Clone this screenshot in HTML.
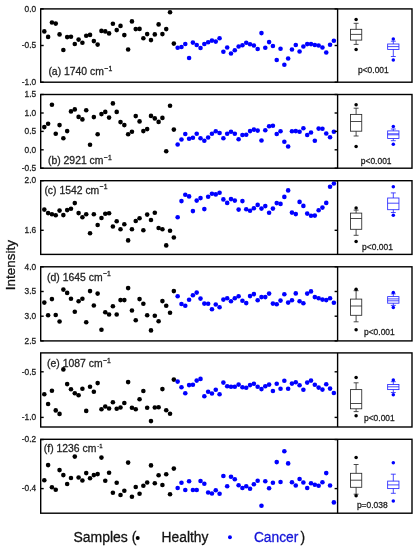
<!DOCTYPE html><html><head><meta charset="utf-8"><style>html,body{margin:0;padding:0;background:#fff;}svg{display:block;}text{font-family:"Liberation Sans",Arial,sans-serif;stroke:currentColor;stroke-width:0.28px;paint-order:stroke;}</style></head><body>
<svg width="418" height="550" viewBox="0 0 418 550">
<rect width="418" height="550" fill="#fff"/>
<circle cx="44.31" cy="31.4" r="2.3" fill="#000"/><circle cx="48.12" cy="36.9" r="2.3" fill="#000"/><circle cx="51.93" cy="22.5" r="2.3" fill="#000"/><circle cx="55.74" cy="23.6" r="2.3" fill="#000"/><circle cx="59.55" cy="34.4" r="2.3" fill="#000"/><circle cx="63.36" cy="50" r="2.3" fill="#000"/><circle cx="67.17" cy="37.1" r="2.3" fill="#000"/><circle cx="70.98" cy="36.8" r="2.3" fill="#000"/><circle cx="74.79" cy="44" r="2.3" fill="#000"/><circle cx="78.6" cy="39.6" r="2.3" fill="#000"/><circle cx="82.41" cy="42.8" r="2.3" fill="#000"/><circle cx="86.22" cy="35.8" r="2.3" fill="#000"/><circle cx="90.03" cy="34.9" r="2.3" fill="#000"/><circle cx="93.84" cy="41.1" r="2.3" fill="#000"/><circle cx="97.65" cy="44.6" r="2.3" fill="#000"/><circle cx="101.46" cy="30.9" r="2.3" fill="#000"/><circle cx="105.27" cy="31.4" r="2.3" fill="#000"/><circle cx="109.08" cy="33.4" r="2.3" fill="#000"/><circle cx="112.89" cy="23.7" r="2.3" fill="#000"/><circle cx="116.7" cy="30.1" r="2.3" fill="#000"/><circle cx="120.51" cy="25.9" r="2.3" fill="#000"/><circle cx="124.32" cy="35.1" r="2.3" fill="#000"/><circle cx="128.13" cy="49.5" r="2.3" fill="#000"/><circle cx="131.94" cy="21.4" r="2.3" fill="#000"/><circle cx="135.75" cy="29.1" r="2.3" fill="#000"/><circle cx="139.56" cy="28.9" r="2.3" fill="#000"/><circle cx="143.37" cy="38.2" r="2.3" fill="#000"/><circle cx="147.18" cy="34.1" r="2.3" fill="#000"/><circle cx="150.99" cy="40.1" r="2.3" fill="#000"/><circle cx="154.8" cy="34.4" r="2.3" fill="#000"/><circle cx="158.61" cy="24.4" r="2.3" fill="#000"/><circle cx="162.42" cy="34.1" r="2.3" fill="#000"/><circle cx="166.23" cy="29.1" r="2.3" fill="#000"/><circle cx="170.04" cy="12.2" r="2.3" fill="#000"/><circle cx="173.85" cy="43.6" r="2.3" fill="#000"/><circle cx="177.66" cy="47.8" r="2.3" fill="#0000ff"/><circle cx="181.47" cy="47" r="2.3" fill="#0000ff"/><circle cx="185.28" cy="44" r="2.3" fill="#0000ff"/><circle cx="189.09" cy="58" r="2.3" fill="#0000ff"/><circle cx="192.9" cy="42.6" r="2.3" fill="#0000ff"/><circle cx="196.71" cy="45" r="2.3" fill="#0000ff"/><circle cx="200.52" cy="48" r="2.3" fill="#0000ff"/><circle cx="204.33" cy="44" r="2.3" fill="#0000ff"/><circle cx="208.14" cy="42.3" r="2.3" fill="#0000ff"/><circle cx="211.95" cy="40.6" r="2.3" fill="#0000ff"/><circle cx="215.76" cy="41.6" r="2.3" fill="#0000ff"/><circle cx="219.57" cy="38.3" r="2.3" fill="#0000ff"/><circle cx="223.38" cy="51.8" r="2.3" fill="#0000ff"/><circle cx="227.19" cy="47.5" r="2.3" fill="#0000ff"/><circle cx="231" cy="53.5" r="2.3" fill="#0000ff"/><circle cx="234.81" cy="50.3" r="2.3" fill="#0000ff"/><circle cx="238.62" cy="46.5" r="2.3" fill="#0000ff"/><circle cx="242.43" cy="45.2" r="2.3" fill="#0000ff"/><circle cx="246.24" cy="42.8" r="2.3" fill="#0000ff"/><circle cx="250.05" cy="44.3" r="2.3" fill="#0000ff"/><circle cx="253.86" cy="45.5" r="2.3" fill="#0000ff"/><circle cx="257.67" cy="49" r="2.3" fill="#0000ff"/><circle cx="261.48" cy="33.1" r="2.3" fill="#0000ff"/><circle cx="265.29" cy="47.8" r="2.3" fill="#0000ff"/><circle cx="269.1" cy="42.1" r="2.3" fill="#0000ff"/><circle cx="272.91" cy="46" r="2.3" fill="#0000ff"/><circle cx="276.72" cy="60" r="2.3" fill="#0000ff"/><circle cx="280.53" cy="48.8" r="2.3" fill="#0000ff"/><circle cx="284.34" cy="64.7" r="2.3" fill="#0000ff"/><circle cx="288.15" cy="58.5" r="2.3" fill="#0000ff"/><circle cx="291.96" cy="49.5" r="2.3" fill="#0000ff"/><circle cx="295.77" cy="45" r="2.3" fill="#0000ff"/><circle cx="299.58" cy="51.5" r="2.3" fill="#0000ff"/><circle cx="303.39" cy="46.5" r="2.3" fill="#0000ff"/><circle cx="307.2" cy="44.1" r="2.3" fill="#0000ff"/><circle cx="311.01" cy="44.1" r="2.3" fill="#0000ff"/><circle cx="314.82" cy="45" r="2.3" fill="#0000ff"/><circle cx="318.63" cy="45.5" r="2.3" fill="#0000ff"/><circle cx="322.44" cy="47.5" r="2.3" fill="#0000ff"/><circle cx="326.25" cy="52.5" r="2.3" fill="#0000ff"/><circle cx="330.06" cy="44.8" r="2.3" fill="#0000ff"/><circle cx="333.87" cy="40.8" r="2.3" fill="#0000ff"/><g stroke="#000" stroke-width="1.4" fill="none"><rect x="40.7" y="8.9" width="371.3" height="73.3"/><line x1="337.6" y1="8.9" x2="337.6" y2="82.2"/><line x1="40.7" y1="8.9" x2="43.7" y2="8.9"/><line x1="334.6" y1="8.9" x2="337.6" y2="8.9"/><line x1="40.7" y1="45.5" x2="43.7" y2="45.5"/><line x1="334.6" y1="45.5" x2="337.6" y2="45.5"/><line x1="40.7" y1="82.2" x2="43.7" y2="82.2"/><line x1="334.6" y1="82.2" x2="337.6" y2="82.2"/></g><text x="36.1" y="11.6" font-size="8.3" text-anchor="end" fill="#222" color="#222">0.0</text><text x="36.1" y="48.2" font-size="8.3" text-anchor="end" fill="#222" color="#222">-0.5</text><text x="36.1" y="84.9" font-size="8.3" text-anchor="end" fill="#222" color="#222">-1.0</text><text x="48.4" y="75.3" font-size="10.4" fill="#222" color="#222">(a) 1740 cm<tspan font-size="6.8" dx="0.6" dy="-4.6">−1</tspan></text><g stroke="#2a2a2a" stroke-width="0.85" fill="none"><rect x="350.45" y="29.3" width="11.3" height="10.8"/><line x1="350.45" y1="34.4" x2="361.75" y2="34.4"/><line x1="356.1" y1="23.3" x2="356.1" y2="29.3"/><line x1="356.1" y1="40.1" x2="356.1" y2="44.4"/><line x1="353.65" y1="23.3" x2="358.55" y2="23.3"/><line x1="353.65" y1="44.4" x2="358.55" y2="44.4"/></g><circle cx="356.1" cy="19.6" r="1.75" fill="#000"/><circle cx="356.1" cy="49.6" r="1.75" fill="#000"/><g stroke="#2828ff" stroke-width="0.85" fill="none"><rect x="387.65" y="44" width="11.3" height="5.4"/><line x1="387.65" y1="46.6" x2="398.95" y2="46.6"/><line x1="393.3" y1="41.2" x2="393.3" y2="44"/><line x1="393.3" y1="49.4" x2="393.3" y2="56.5"/><line x1="390.85" y1="41.2" x2="395.75" y2="41.2"/><line x1="390.85" y1="56.5" x2="395.75" y2="56.5"/></g><circle cx="393.3" cy="39" r="1.75" fill="#0000ff"/><circle cx="393.3" cy="59.9" r="1.75" fill="#0000ff"/><text x="358.0" y="73.1" font-size="8.45" fill="#222" color="#222">p&lt;0.001</text>
<circle cx="44.31" cy="127.1" r="2.3" fill="#000"/><circle cx="48.12" cy="123.8" r="2.3" fill="#000"/><circle cx="51.93" cy="104.7" r="2.3" fill="#000"/><circle cx="55.74" cy="133.8" r="2.3" fill="#000"/><circle cx="59.55" cy="125.1" r="2.3" fill="#000"/><circle cx="63.36" cy="138.3" r="2.3" fill="#000"/><circle cx="67.17" cy="131.1" r="2.3" fill="#000"/><circle cx="70.98" cy="111.4" r="2.3" fill="#000"/><circle cx="74.79" cy="109.4" r="2.3" fill="#000"/><circle cx="78.6" cy="116.9" r="2.3" fill="#000"/><circle cx="82.41" cy="119.4" r="2.3" fill="#000"/><circle cx="86.22" cy="110.2" r="2.3" fill="#000"/><circle cx="90.03" cy="144.7" r="2.3" fill="#000"/><circle cx="93.84" cy="117.1" r="2.3" fill="#000"/><circle cx="97.65" cy="134.3" r="2.3" fill="#000"/><circle cx="101.46" cy="114.1" r="2.3" fill="#000"/><circle cx="105.27" cy="111.9" r="2.3" fill="#000"/><circle cx="109.08" cy="117.6" r="2.3" fill="#000"/><circle cx="112.89" cy="103.4" r="2.3" fill="#000"/><circle cx="116.7" cy="111.9" r="2.3" fill="#000"/><circle cx="120.51" cy="122.1" r="2.3" fill="#000"/><circle cx="124.32" cy="125.1" r="2.3" fill="#000"/><circle cx="128.13" cy="134.3" r="2.3" fill="#000"/><circle cx="131.94" cy="131.8" r="2.3" fill="#000"/><circle cx="135.75" cy="116.1" r="2.3" fill="#000"/><circle cx="139.56" cy="121.4" r="2.3" fill="#000"/><circle cx="143.37" cy="131.1" r="2.3" fill="#000"/><circle cx="147.18" cy="129.1" r="2.3" fill="#000"/><circle cx="150.99" cy="115.9" r="2.3" fill="#000"/><circle cx="154.8" cy="118.4" r="2.3" fill="#000"/><circle cx="158.61" cy="121.9" r="2.3" fill="#000"/><circle cx="162.42" cy="117.9" r="2.3" fill="#000"/><circle cx="166.23" cy="151.2" r="2.3" fill="#000"/><circle cx="170.04" cy="105.7" r="2.3" fill="#000"/><circle cx="173.85" cy="129.6" r="2.3" fill="#000"/><circle cx="177.66" cy="144.5" r="2.3" fill="#0000ff"/><circle cx="181.47" cy="139.5" r="2.3" fill="#0000ff"/><circle cx="185.28" cy="134" r="2.3" fill="#0000ff"/><circle cx="189.09" cy="138.8" r="2.3" fill="#0000ff"/><circle cx="192.9" cy="137.8" r="2.3" fill="#0000ff"/><circle cx="196.71" cy="133.8" r="2.3" fill="#0000ff"/><circle cx="200.52" cy="138.3" r="2.3" fill="#0000ff"/><circle cx="204.33" cy="140.8" r="2.3" fill="#0000ff"/><circle cx="208.14" cy="137.5" r="2.3" fill="#0000ff"/><circle cx="211.95" cy="133.8" r="2.3" fill="#0000ff"/><circle cx="215.76" cy="131.3" r="2.3" fill="#0000ff"/><circle cx="219.57" cy="133" r="2.3" fill="#0000ff"/><circle cx="223.38" cy="138.3" r="2.3" fill="#0000ff"/><circle cx="227.19" cy="133.8" r="2.3" fill="#0000ff"/><circle cx="231" cy="131.8" r="2.3" fill="#0000ff"/><circle cx="234.81" cy="133.8" r="2.3" fill="#0000ff"/><circle cx="238.62" cy="139.3" r="2.3" fill="#0000ff"/><circle cx="242.43" cy="135" r="2.3" fill="#0000ff"/><circle cx="246.24" cy="134.8" r="2.3" fill="#0000ff"/><circle cx="250.05" cy="131.1" r="2.3" fill="#0000ff"/><circle cx="253.86" cy="129.6" r="2.3" fill="#0000ff"/><circle cx="257.67" cy="130.6" r="2.3" fill="#0000ff"/><circle cx="261.48" cy="140.5" r="2.3" fill="#0000ff"/><circle cx="265.29" cy="130.3" r="2.3" fill="#0000ff"/><circle cx="269.1" cy="126.3" r="2.3" fill="#0000ff"/><circle cx="272.91" cy="125.8" r="2.3" fill="#0000ff"/><circle cx="276.72" cy="134" r="2.3" fill="#0000ff"/><circle cx="280.53" cy="131.3" r="2.3" fill="#0000ff"/><circle cx="284.34" cy="141.8" r="2.3" fill="#0000ff"/><circle cx="288.15" cy="146.5" r="2.3" fill="#0000ff"/><circle cx="291.96" cy="131.3" r="2.3" fill="#0000ff"/><circle cx="295.77" cy="131.1" r="2.3" fill="#0000ff"/><circle cx="299.58" cy="131.8" r="2.3" fill="#0000ff"/><circle cx="303.39" cy="128.3" r="2.3" fill="#0000ff"/><circle cx="307.2" cy="135" r="2.3" fill="#0000ff"/><circle cx="311.01" cy="132.5" r="2.3" fill="#0000ff"/><circle cx="314.82" cy="140.8" r="2.3" fill="#0000ff"/><circle cx="318.63" cy="128.6" r="2.3" fill="#0000ff"/><circle cx="322.44" cy="128.8" r="2.3" fill="#0000ff"/><circle cx="326.25" cy="133.5" r="2.3" fill="#0000ff"/><circle cx="330.06" cy="137.3" r="2.3" fill="#0000ff"/><circle cx="333.87" cy="131.8" r="2.3" fill="#0000ff"/><g stroke="#000" stroke-width="1.4" fill="none"><rect x="40.7" y="94.5" width="371.3" height="73.7"/><line x1="337.6" y1="94.5" x2="337.6" y2="168.2"/><line x1="40.7" y1="94.5" x2="43.7" y2="94.5"/><line x1="334.6" y1="94.5" x2="337.6" y2="94.5"/><line x1="40.7" y1="113.0" x2="43.7" y2="113.0"/><line x1="334.6" y1="113.0" x2="337.6" y2="113.0"/><line x1="40.7" y1="131.4" x2="43.7" y2="131.4"/><line x1="334.6" y1="131.4" x2="337.6" y2="131.4"/><line x1="40.7" y1="149.8" x2="43.7" y2="149.8"/><line x1="334.6" y1="149.8" x2="337.6" y2="149.8"/><line x1="40.7" y1="168.2" x2="43.7" y2="168.2"/><line x1="334.6" y1="168.2" x2="337.6" y2="168.2"/></g><text x="36.1" y="97.2" font-size="8.3" text-anchor="end" fill="#222" color="#222">1.5</text><text x="36.1" y="115.7" font-size="8.3" text-anchor="end" fill="#222" color="#222">1.0</text><text x="36.1" y="134.1" font-size="8.3" text-anchor="end" fill="#222" color="#222">0.5</text><text x="36.1" y="152.5" font-size="8.3" text-anchor="end" fill="#222" color="#222">0.0</text><text x="36.1" y="170.9" font-size="8.3" text-anchor="end" fill="#222" color="#222">-0.5</text><text x="48.0" y="164.1" font-size="10.4" fill="#222" color="#222">(b) 2921 cm<tspan font-size="6.8" dx="0.6" dy="-4.6">−1</tspan></text><g stroke="#2a2a2a" stroke-width="0.85" fill="none"><rect x="350.45" y="114.4" width="11.3" height="16.8"/><line x1="350.45" y1="121.5" x2="361.75" y2="121.5"/><line x1="356.1" y1="108.2" x2="356.1" y2="114.4"/><line x1="356.1" y1="131.2" x2="356.1" y2="136"/><line x1="353.65" y1="108.2" x2="358.55" y2="108.2"/><line x1="353.65" y1="136" x2="358.55" y2="136"/></g><circle cx="356.1" cy="104.7" r="1.75" fill="#000"/><circle cx="356.1" cy="146.5" r="1.75" fill="#000"/><g stroke="#2828ff" stroke-width="0.85" fill="none"><rect x="387.65" y="130.9" width="11.3" height="7.6"/><line x1="387.65" y1="133.8" x2="398.95" y2="133.8"/><line x1="387.65" y1="134.8" x2="398.95" y2="134.8"/><line x1="393.3" y1="129" x2="393.3" y2="130.9"/><line x1="393.3" y1="138.5" x2="393.3" y2="140.7"/><line x1="390.85" y1="129" x2="395.75" y2="129"/><line x1="390.85" y1="140.7" x2="395.75" y2="140.7"/></g><circle cx="393.3" cy="126.4" r="1.75" fill="#0000ff"/><circle cx="393.3" cy="144.2" r="1.75" fill="#0000ff"/><text x="360.8" y="163.8" font-size="8.45" fill="#222" color="#222">p&lt;0.001</text>
<circle cx="44.31" cy="209.6" r="2.3" fill="#000"/><circle cx="48.12" cy="213.1" r="2.3" fill="#000"/><circle cx="51.93" cy="214.3" r="2.3" fill="#000"/><circle cx="55.74" cy="215.3" r="2.3" fill="#000"/><circle cx="59.55" cy="210.6" r="2.3" fill="#000"/><circle cx="63.36" cy="215.1" r="2.3" fill="#000"/><circle cx="67.17" cy="210.1" r="2.3" fill="#000"/><circle cx="70.98" cy="208.8" r="2.3" fill="#000"/><circle cx="74.79" cy="203.1" r="2.3" fill="#000"/><circle cx="78.6" cy="213.1" r="2.3" fill="#000"/><circle cx="82.41" cy="217.3" r="2.3" fill="#000"/><circle cx="86.22" cy="214.3" r="2.3" fill="#000"/><circle cx="90.03" cy="233.2" r="2.3" fill="#000"/><circle cx="93.84" cy="214.3" r="2.3" fill="#000"/><circle cx="97.65" cy="225" r="2.3" fill="#000"/><circle cx="101.46" cy="218" r="2.3" fill="#000"/><circle cx="105.27" cy="213.8" r="2.3" fill="#000"/><circle cx="109.08" cy="213.3" r="2.3" fill="#000"/><circle cx="112.89" cy="226.5" r="2.3" fill="#000"/><circle cx="116.7" cy="221.3" r="2.3" fill="#000"/><circle cx="120.51" cy="229.2" r="2.3" fill="#000"/><circle cx="124.32" cy="224.3" r="2.3" fill="#000"/><circle cx="128.13" cy="240.4" r="2.3" fill="#000"/><circle cx="131.94" cy="229.2" r="2.3" fill="#000"/><circle cx="135.75" cy="221" r="2.3" fill="#000"/><circle cx="139.56" cy="218.3" r="2.3" fill="#000"/><circle cx="143.37" cy="230.2" r="2.3" fill="#000"/><circle cx="147.18" cy="214.6" r="2.3" fill="#000"/><circle cx="150.99" cy="220" r="2.3" fill="#000"/><circle cx="154.8" cy="212.8" r="2.3" fill="#000"/><circle cx="158.61" cy="228" r="2.3" fill="#000"/><circle cx="162.42" cy="229.2" r="2.3" fill="#000"/><circle cx="166.23" cy="245.4" r="2.3" fill="#000"/><circle cx="170.04" cy="230.7" r="2.3" fill="#000"/><circle cx="173.85" cy="237.5" r="2.3" fill="#000"/><circle cx="177.66" cy="217.3" r="2.3" fill="#0000ff"/><circle cx="181.47" cy="201.1" r="2.3" fill="#0000ff"/><circle cx="185.28" cy="194.7" r="2.3" fill="#0000ff"/><circle cx="189.09" cy="196.4" r="2.3" fill="#0000ff"/><circle cx="192.9" cy="211.1" r="2.3" fill="#0000ff"/><circle cx="196.71" cy="200.6" r="2.3" fill="#0000ff"/><circle cx="200.52" cy="198.1" r="2.3" fill="#0000ff"/><circle cx="204.33" cy="209.1" r="2.3" fill="#0000ff"/><circle cx="208.14" cy="196.7" r="2.3" fill="#0000ff"/><circle cx="211.95" cy="193.7" r="2.3" fill="#0000ff"/><circle cx="215.76" cy="194.4" r="2.3" fill="#0000ff"/><circle cx="219.57" cy="192.7" r="2.3" fill="#0000ff"/><circle cx="223.38" cy="199.4" r="2.3" fill="#0000ff"/><circle cx="227.19" cy="202.9" r="2.3" fill="#0000ff"/><circle cx="231" cy="199.1" r="2.3" fill="#0000ff"/><circle cx="234.81" cy="200.6" r="2.3" fill="#0000ff"/><circle cx="238.62" cy="209.6" r="2.3" fill="#0000ff"/><circle cx="242.43" cy="201.1" r="2.3" fill="#0000ff"/><circle cx="246.24" cy="209.3" r="2.3" fill="#0000ff"/><circle cx="250.05" cy="210.8" r="2.3" fill="#0000ff"/><circle cx="253.86" cy="208.3" r="2.3" fill="#0000ff"/><circle cx="257.67" cy="204.9" r="2.3" fill="#0000ff"/><circle cx="261.48" cy="208.6" r="2.3" fill="#0000ff"/><circle cx="265.29" cy="206.1" r="2.3" fill="#0000ff"/><circle cx="269.1" cy="212.8" r="2.3" fill="#0000ff"/><circle cx="272.91" cy="208.6" r="2.3" fill="#0000ff"/><circle cx="276.72" cy="203.1" r="2.3" fill="#0000ff"/><circle cx="280.53" cy="203.9" r="2.3" fill="#0000ff"/><circle cx="284.34" cy="196.9" r="2.3" fill="#0000ff"/><circle cx="288.15" cy="190.4" r="2.3" fill="#0000ff"/><circle cx="291.96" cy="212.6" r="2.3" fill="#0000ff"/><circle cx="295.77" cy="214.1" r="2.3" fill="#0000ff"/><circle cx="299.58" cy="201.9" r="2.3" fill="#0000ff"/><circle cx="303.39" cy="205.9" r="2.3" fill="#0000ff"/><circle cx="307.2" cy="213.6" r="2.3" fill="#0000ff"/><circle cx="311.01" cy="215.8" r="2.3" fill="#0000ff"/><circle cx="314.82" cy="215.6" r="2.3" fill="#0000ff"/><circle cx="318.63" cy="210.3" r="2.3" fill="#0000ff"/><circle cx="322.44" cy="207.6" r="2.3" fill="#0000ff"/><circle cx="326.25" cy="202.9" r="2.3" fill="#0000ff"/><circle cx="330.06" cy="186.7" r="2.3" fill="#0000ff"/><circle cx="333.87" cy="183.5" r="2.3" fill="#0000ff"/><g stroke="#000" stroke-width="1.4" fill="none"><rect x="40.7" y="180.7" width="371.3" height="73.7"/><line x1="337.6" y1="180.7" x2="337.6" y2="254.4"/><line x1="40.7" y1="180.7" x2="43.7" y2="180.7"/><line x1="334.6" y1="180.7" x2="337.6" y2="180.7"/><line x1="40.7" y1="230.3" x2="43.7" y2="230.3"/><line x1="334.6" y1="230.3" x2="337.6" y2="230.3"/></g><text x="36.1" y="183.4" font-size="8.3" text-anchor="end" fill="#222" color="#222">2.0</text><text x="36.1" y="233" font-size="8.3" text-anchor="end" fill="#222" color="#222">1.6</text><text x="44.4" y="194.0" font-size="10.4" fill="#222" color="#222">(c) 1542 cm<tspan font-size="6.8" dx="0.6" dy="-4.6">−1</tspan></text><g stroke="#2a2a2a" stroke-width="0.85" fill="none"><rect x="350.45" y="213.1" width="11.3" height="16.2"/><line x1="350.45" y1="218.5" x2="361.75" y2="218.5"/><line x1="356.1" y1="210.1" x2="356.1" y2="213.1"/><line x1="356.1" y1="229.3" x2="356.1" y2="235.3"/><line x1="353.65" y1="210.1" x2="358.55" y2="210.1"/><line x1="353.65" y1="235.3" x2="358.55" y2="235.3"/></g><circle cx="356.1" cy="207.9" r="1.75" fill="#000"/><circle cx="356.1" cy="241.4" r="1.75" fill="#000"/><g stroke="#2828ff" stroke-width="0.85" fill="none"><rect x="387.65" y="198" width="11.3" height="11.7"/><line x1="387.65" y1="203.2" x2="398.95" y2="203.2"/><line x1="393.3" y1="192.9" x2="393.3" y2="198"/><line x1="393.3" y1="209.7" x2="393.3" y2="212.5"/><line x1="390.85" y1="192.9" x2="395.75" y2="192.9"/><line x1="390.85" y1="212.5" x2="395.75" y2="212.5"/></g><circle cx="393.3" cy="186.8" r="1.75" fill="#0000ff"/><circle cx="393.3" cy="215.3" r="1.75" fill="#0000ff"/><text x="362.1" y="249.5" font-size="8.45" fill="#222" color="#222">p&lt;0.001</text>
<circle cx="44.31" cy="302.6" r="2.3" fill="#000"/><circle cx="48.12" cy="315.2" r="2.3" fill="#000"/><circle cx="51.93" cy="299.1" r="2.3" fill="#000"/><circle cx="55.74" cy="315" r="2.3" fill="#000"/><circle cx="59.55" cy="321.5" r="2.3" fill="#000"/><circle cx="63.36" cy="289.6" r="2.3" fill="#000"/><circle cx="67.17" cy="292.9" r="2.3" fill="#000"/><circle cx="70.98" cy="298.8" r="2.3" fill="#000"/><circle cx="74.79" cy="311.8" r="2.3" fill="#000"/><circle cx="78.6" cy="301.3" r="2.3" fill="#000"/><circle cx="82.41" cy="298.8" r="2.3" fill="#000"/><circle cx="86.22" cy="322.2" r="2.3" fill="#000"/><circle cx="90.03" cy="291.1" r="2.3" fill="#000"/><circle cx="93.84" cy="305.5" r="2.3" fill="#000"/><circle cx="97.65" cy="293.6" r="2.3" fill="#000"/><circle cx="101.46" cy="329.7" r="2.3" fill="#000"/><circle cx="105.27" cy="312.3" r="2.3" fill="#000"/><circle cx="109.08" cy="314.5" r="2.3" fill="#000"/><circle cx="112.89" cy="306.3" r="2.3" fill="#000"/><circle cx="116.7" cy="314.5" r="2.3" fill="#000"/><circle cx="120.51" cy="300.1" r="2.3" fill="#000"/><circle cx="124.32" cy="300.1" r="2.3" fill="#000"/><circle cx="128.13" cy="288.1" r="2.3" fill="#000"/><circle cx="131.94" cy="310.5" r="2.3" fill="#000"/><circle cx="135.75" cy="320.2" r="2.3" fill="#000"/><circle cx="139.56" cy="299.1" r="2.3" fill="#000"/><circle cx="143.37" cy="303.8" r="2.3" fill="#000"/><circle cx="147.18" cy="315.2" r="2.3" fill="#000"/><circle cx="150.99" cy="330.4" r="2.3" fill="#000"/><circle cx="154.8" cy="315.7" r="2.3" fill="#000"/><circle cx="158.61" cy="321.2" r="2.3" fill="#000"/><circle cx="162.42" cy="301.1" r="2.3" fill="#000"/><circle cx="166.23" cy="305.8" r="2.3" fill="#000"/><circle cx="170.04" cy="312.8" r="2.3" fill="#000"/><circle cx="173.85" cy="291.1" r="2.3" fill="#000"/><circle cx="177.66" cy="296.3" r="2.3" fill="#0000ff"/><circle cx="181.47" cy="304" r="2.3" fill="#0000ff"/><circle cx="185.28" cy="305.8" r="2.3" fill="#0000ff"/><circle cx="189.09" cy="299.8" r="2.3" fill="#0000ff"/><circle cx="192.9" cy="295.3" r="2.3" fill="#0000ff"/><circle cx="196.71" cy="292.6" r="2.3" fill="#0000ff"/><circle cx="200.52" cy="298.6" r="2.3" fill="#0000ff"/><circle cx="204.33" cy="303.6" r="2.3" fill="#0000ff"/><circle cx="208.14" cy="303.8" r="2.3" fill="#0000ff"/><circle cx="211.95" cy="309.3" r="2.3" fill="#0000ff"/><circle cx="215.76" cy="304.5" r="2.3" fill="#0000ff"/><circle cx="219.57" cy="307.3" r="2.3" fill="#0000ff"/><circle cx="223.38" cy="299.6" r="2.3" fill="#0000ff"/><circle cx="227.19" cy="298.3" r="2.3" fill="#0000ff"/><circle cx="231" cy="301.3" r="2.3" fill="#0000ff"/><circle cx="234.81" cy="298.3" r="2.3" fill="#0000ff"/><circle cx="238.62" cy="296.3" r="2.3" fill="#0000ff"/><circle cx="242.43" cy="300.8" r="2.3" fill="#0000ff"/><circle cx="246.24" cy="303.1" r="2.3" fill="#0000ff"/><circle cx="250.05" cy="296.1" r="2.3" fill="#0000ff"/><circle cx="253.86" cy="294.1" r="2.3" fill="#0000ff"/><circle cx="257.67" cy="300.3" r="2.3" fill="#0000ff"/><circle cx="261.48" cy="297.1" r="2.3" fill="#0000ff"/><circle cx="265.29" cy="297.1" r="2.3" fill="#0000ff"/><circle cx="269.1" cy="293.6" r="2.3" fill="#0000ff"/><circle cx="272.91" cy="303.6" r="2.3" fill="#0000ff"/><circle cx="276.72" cy="304.3" r="2.3" fill="#0000ff"/><circle cx="280.53" cy="300.6" r="2.3" fill="#0000ff"/><circle cx="284.34" cy="294.3" r="2.3" fill="#0000ff"/><circle cx="288.15" cy="302.6" r="2.3" fill="#0000ff"/><circle cx="291.96" cy="300.3" r="2.3" fill="#0000ff"/><circle cx="295.77" cy="293.4" r="2.3" fill="#0000ff"/><circle cx="299.58" cy="301.3" r="2.3" fill="#0000ff"/><circle cx="303.39" cy="303.3" r="2.3" fill="#0000ff"/><circle cx="307.2" cy="293.6" r="2.3" fill="#0000ff"/><circle cx="311.01" cy="291.4" r="2.3" fill="#0000ff"/><circle cx="314.82" cy="297.1" r="2.3" fill="#0000ff"/><circle cx="318.63" cy="298.3" r="2.3" fill="#0000ff"/><circle cx="322.44" cy="299.6" r="2.3" fill="#0000ff"/><circle cx="326.25" cy="300.1" r="2.3" fill="#0000ff"/><circle cx="330.06" cy="298.3" r="2.3" fill="#0000ff"/><circle cx="333.87" cy="302.8" r="2.3" fill="#0000ff"/><g stroke="#000" stroke-width="1.4" fill="none"><rect x="40.7" y="266.8" width="371.3" height="74.1"/><line x1="337.6" y1="266.8" x2="337.6" y2="340.9"/><line x1="40.7" y1="266.8" x2="43.7" y2="266.8"/><line x1="334.6" y1="266.8" x2="337.6" y2="266.8"/><line x1="40.7" y1="291.5" x2="43.7" y2="291.5"/><line x1="334.6" y1="291.5" x2="337.6" y2="291.5"/><line x1="40.7" y1="316.2" x2="43.7" y2="316.2"/><line x1="334.6" y1="316.2" x2="337.6" y2="316.2"/><line x1="40.7" y1="340.9" x2="43.7" y2="340.9"/><line x1="334.6" y1="340.9" x2="337.6" y2="340.9"/></g><text x="36.1" y="269.5" font-size="8.3" text-anchor="end" fill="#222" color="#222">4.0</text><text x="36.1" y="294.2" font-size="8.3" text-anchor="end" fill="#222" color="#222">3.5</text><text x="36.1" y="318.9" font-size="8.3" text-anchor="end" fill="#222" color="#222">3.0</text><text x="36.1" y="343.6" font-size="8.3" text-anchor="end" fill="#222" color="#222">2.5</text><text x="47.1" y="280.7" font-size="10.4" fill="#222" color="#222">(d) 1645 cm<tspan font-size="6.8" dx="0.6" dy="-4.6">−1</tspan></text><g stroke="#2a2a2a" stroke-width="0.85" fill="none"><rect x="350.45" y="299.1" width="11.3" height="16.2"/><line x1="350.45" y1="306" x2="361.75" y2="306"/><line x1="356.1" y1="290.7" x2="356.1" y2="299.1"/><line x1="356.1" y1="315.3" x2="356.1" y2="321.8"/><line x1="353.65" y1="290.7" x2="358.55" y2="290.7"/><line x1="353.65" y1="321.8" x2="358.55" y2="321.8"/></g><circle cx="356.1" cy="289.2" r="1.75" fill="#000"/><circle cx="356.1" cy="329.7" r="1.75" fill="#000"/><g stroke="#2828ff" stroke-width="0.85" fill="none"><rect x="387.65" y="296.6" width="11.3" height="6.6"/><line x1="387.65" y1="298.9" x2="398.95" y2="298.9"/><line x1="387.65" y1="300.8" x2="398.95" y2="300.8"/><line x1="393.3" y1="293.9" x2="393.3" y2="296.6"/><line x1="393.3" y1="303.2" x2="393.3" y2="305.4"/><line x1="390.85" y1="293.9" x2="395.75" y2="293.9"/><line x1="390.85" y1="305.4" x2="395.75" y2="305.4"/></g><circle cx="393.3" cy="292.5" r="1.75" fill="#0000ff"/><circle cx="393.3" cy="307.5" r="1.75" fill="#0000ff"/><text x="364.0" y="334.9" font-size="8.45" fill="#222" color="#222">p&lt;0.001</text>
<circle cx="44.31" cy="394.3" r="2.3" fill="#000"/><circle cx="48.12" cy="404" r="2.3" fill="#000"/><circle cx="51.93" cy="390.8" r="2.3" fill="#000"/><circle cx="55.74" cy="410.4" r="2.3" fill="#000"/><circle cx="59.55" cy="413.9" r="2.3" fill="#000"/><circle cx="63.36" cy="369.4" r="2.3" fill="#000"/><circle cx="67.17" cy="384.1" r="2.3" fill="#000"/><circle cx="70.98" cy="389.3" r="2.3" fill="#000"/><circle cx="74.79" cy="393.3" r="2.3" fill="#000"/><circle cx="78.6" cy="395.3" r="2.3" fill="#000"/><circle cx="82.41" cy="388.8" r="2.3" fill="#000"/><circle cx="86.22" cy="410.9" r="2.3" fill="#000"/><circle cx="90.03" cy="386.8" r="2.3" fill="#000"/><circle cx="93.84" cy="391.8" r="2.3" fill="#000"/><circle cx="97.65" cy="383.1" r="2.3" fill="#000"/><circle cx="101.46" cy="409.2" r="2.3" fill="#000"/><circle cx="105.27" cy="406.5" r="2.3" fill="#000"/><circle cx="109.08" cy="408.5" r="2.3" fill="#000"/><circle cx="112.89" cy="402.2" r="2.3" fill="#000"/><circle cx="116.7" cy="408.7" r="2.3" fill="#000"/><circle cx="120.51" cy="407.5" r="2.3" fill="#000"/><circle cx="124.32" cy="403" r="2.3" fill="#000"/><circle cx="128.13" cy="382.1" r="2.3" fill="#000"/><circle cx="131.94" cy="407.7" r="2.3" fill="#000"/><circle cx="135.75" cy="409.2" r="2.3" fill="#000"/><circle cx="139.56" cy="399.3" r="2.3" fill="#000"/><circle cx="143.37" cy="391" r="2.3" fill="#000"/><circle cx="147.18" cy="407.7" r="2.3" fill="#000"/><circle cx="150.99" cy="421.1" r="2.3" fill="#000"/><circle cx="154.8" cy="407.5" r="2.3" fill="#000"/><circle cx="158.61" cy="407.2" r="2.3" fill="#000"/><circle cx="162.42" cy="389.1" r="2.3" fill="#000"/><circle cx="166.23" cy="410.2" r="2.3" fill="#000"/><circle cx="170.04" cy="413.7" r="2.3" fill="#000"/><circle cx="173.85" cy="379.6" r="2.3" fill="#000"/><circle cx="177.66" cy="381.6" r="2.3" fill="#0000ff"/><circle cx="181.47" cy="387.3" r="2.3" fill="#0000ff"/><circle cx="185.28" cy="393.3" r="2.3" fill="#0000ff"/><circle cx="189.09" cy="385.1" r="2.3" fill="#0000ff"/><circle cx="192.9" cy="384.8" r="2.3" fill="#0000ff"/><circle cx="196.71" cy="380.6" r="2.3" fill="#0000ff"/><circle cx="200.52" cy="378.9" r="2.3" fill="#0000ff"/><circle cx="204.33" cy="396.3" r="2.3" fill="#0000ff"/><circle cx="208.14" cy="391.8" r="2.3" fill="#0000ff"/><circle cx="211.95" cy="393.5" r="2.3" fill="#0000ff"/><circle cx="215.76" cy="389.8" r="2.3" fill="#0000ff"/><circle cx="219.57" cy="394.3" r="2.3" fill="#0000ff"/><circle cx="223.38" cy="382.6" r="2.3" fill="#0000ff"/><circle cx="227.19" cy="386.3" r="2.3" fill="#0000ff"/><circle cx="231" cy="386.8" r="2.3" fill="#0000ff"/><circle cx="234.81" cy="386.8" r="2.3" fill="#0000ff"/><circle cx="238.62" cy="384.6" r="2.3" fill="#0000ff"/><circle cx="242.43" cy="387.3" r="2.3" fill="#0000ff"/><circle cx="246.24" cy="387.8" r="2.3" fill="#0000ff"/><circle cx="250.05" cy="385.1" r="2.3" fill="#0000ff"/><circle cx="253.86" cy="383.8" r="2.3" fill="#0000ff"/><circle cx="257.67" cy="386.8" r="2.3" fill="#0000ff"/><circle cx="261.48" cy="389.1" r="2.3" fill="#0000ff"/><circle cx="265.29" cy="386.3" r="2.3" fill="#0000ff"/><circle cx="269.1" cy="384.6" r="2.3" fill="#0000ff"/><circle cx="272.91" cy="391" r="2.3" fill="#0000ff"/><circle cx="276.72" cy="383.8" r="2.3" fill="#0000ff"/><circle cx="280.53" cy="388.8" r="2.3" fill="#0000ff"/><circle cx="284.34" cy="380.8" r="2.3" fill="#0000ff"/><circle cx="288.15" cy="388.8" r="2.3" fill="#0000ff"/><circle cx="291.96" cy="383.6" r="2.3" fill="#0000ff"/><circle cx="295.77" cy="382.3" r="2.3" fill="#0000ff"/><circle cx="299.58" cy="385.3" r="2.3" fill="#0000ff"/><circle cx="303.39" cy="389.8" r="2.3" fill="#0000ff"/><circle cx="307.2" cy="382.6" r="2.3" fill="#0000ff"/><circle cx="311.01" cy="380.6" r="2.3" fill="#0000ff"/><circle cx="314.82" cy="384.8" r="2.3" fill="#0000ff"/><circle cx="318.63" cy="387.6" r="2.3" fill="#0000ff"/><circle cx="322.44" cy="389.6" r="2.3" fill="#0000ff"/><circle cx="326.25" cy="384.3" r="2.3" fill="#0000ff"/><circle cx="330.06" cy="388.6" r="2.3" fill="#0000ff"/><circle cx="333.87" cy="393" r="2.3" fill="#0000ff"/><g stroke="#000" stroke-width="1.4" fill="none"><rect x="40.7" y="352.9" width="371.3" height="74.1"/><line x1="337.6" y1="352.9" x2="337.6" y2="427.0"/><line x1="40.7" y1="371.8" x2="43.7" y2="371.8"/><line x1="334.6" y1="371.8" x2="337.6" y2="371.8"/><line x1="40.7" y1="417.4" x2="43.7" y2="417.4"/><line x1="334.6" y1="417.4" x2="337.6" y2="417.4"/></g><text x="36.1" y="374.5" font-size="8.3" text-anchor="end" fill="#222" color="#222">-0.5</text><text x="36.1" y="420.1" font-size="8.3" text-anchor="end" fill="#222" color="#222">-1.0</text><text x="47.1" y="367.3" font-size="10.4" fill="#222" color="#222">(e) 1087 cm<tspan font-size="6.8" dx="0.6" dy="-4.6">−1</tspan></text><g stroke="#2a2a2a" stroke-width="0.85" fill="none"><rect x="350.45" y="389.6" width="11.3" height="19.2"/><line x1="350.45" y1="403.5" x2="361.75" y2="403.5"/><line x1="356.1" y1="382.8" x2="356.1" y2="389.6"/><line x1="356.1" y1="408.8" x2="356.1" y2="411.6"/><line x1="353.65" y1="382.8" x2="358.55" y2="382.8"/><line x1="353.65" y1="411.6" x2="358.55" y2="411.6"/></g><circle cx="356.1" cy="377.6" r="1.75" fill="#000"/><circle cx="356.1" cy="415.7" r="1.75" fill="#000"/><g stroke="#2828ff" stroke-width="0.85" fill="none"><rect x="387.65" y="384.5" width="11.3" height="5.1"/><line x1="387.65" y1="386.8" x2="398.95" y2="386.8"/><line x1="393.3" y1="381.7" x2="393.3" y2="384.5"/><line x1="393.3" y1="389.6" x2="393.3" y2="392.5"/><line x1="390.85" y1="381.7" x2="395.75" y2="381.7"/><line x1="390.85" y1="392.5" x2="395.75" y2="392.5"/></g><circle cx="393.3" cy="379.9" r="1.75" fill="#0000ff"/><circle cx="393.3" cy="394.8" r="1.75" fill="#0000ff"/><text x="364.0" y="420.9" font-size="8.45" fill="#222" color="#222">p&lt;0.001</text>
<circle cx="44.31" cy="480.3" r="2.3" fill="#000"/><circle cx="48.12" cy="465.1" r="2.3" fill="#000"/><circle cx="51.93" cy="487.2" r="2.3" fill="#000"/><circle cx="55.74" cy="489.7" r="2.3" fill="#000"/><circle cx="59.55" cy="470.1" r="2.3" fill="#000"/><circle cx="63.36" cy="475.1" r="2.3" fill="#000"/><circle cx="67.17" cy="484" r="2.3" fill="#000"/><circle cx="70.98" cy="478" r="2.3" fill="#000"/><circle cx="74.79" cy="456.6" r="2.3" fill="#000"/><circle cx="78.6" cy="477.5" r="2.3" fill="#000"/><circle cx="82.41" cy="480.5" r="2.3" fill="#000"/><circle cx="86.22" cy="473.1" r="2.3" fill="#000"/><circle cx="90.03" cy="478.3" r="2.3" fill="#000"/><circle cx="93.84" cy="475.1" r="2.3" fill="#000"/><circle cx="97.65" cy="474.1" r="2.3" fill="#000"/><circle cx="101.46" cy="457.6" r="2.3" fill="#000"/><circle cx="105.27" cy="480.8" r="2.3" fill="#000"/><circle cx="109.08" cy="472.8" r="2.3" fill="#000"/><circle cx="112.89" cy="492.7" r="2.3" fill="#000"/><circle cx="116.7" cy="482.8" r="2.3" fill="#000"/><circle cx="120.51" cy="495" r="2.3" fill="#000"/><circle cx="124.32" cy="490.7" r="2.3" fill="#000"/><circle cx="128.13" cy="462.6" r="2.3" fill="#000"/><circle cx="131.94" cy="496.7" r="2.3" fill="#000"/><circle cx="135.75" cy="487" r="2.3" fill="#000"/><circle cx="139.56" cy="493.7" r="2.3" fill="#000"/><circle cx="143.37" cy="485.8" r="2.3" fill="#000"/><circle cx="147.18" cy="482.5" r="2.3" fill="#000"/><circle cx="150.99" cy="465.4" r="2.3" fill="#000"/><circle cx="154.8" cy="483.3" r="2.3" fill="#000"/><circle cx="158.61" cy="475.3" r="2.3" fill="#000"/><circle cx="162.42" cy="485" r="2.3" fill="#000"/><circle cx="166.23" cy="474.3" r="2.3" fill="#000"/><circle cx="170.04" cy="494.2" r="2.3" fill="#000"/><circle cx="173.85" cy="468.6" r="2.3" fill="#000"/><circle cx="177.66" cy="488" r="2.3" fill="#0000ff"/><circle cx="181.47" cy="482.8" r="2.3" fill="#0000ff"/><circle cx="185.28" cy="490" r="2.3" fill="#0000ff"/><circle cx="189.09" cy="481.3" r="2.3" fill="#0000ff"/><circle cx="192.9" cy="490" r="2.3" fill="#0000ff"/><circle cx="196.71" cy="490" r="2.3" fill="#0000ff"/><circle cx="200.52" cy="481" r="2.3" fill="#0000ff"/><circle cx="204.33" cy="483.8" r="2.3" fill="#0000ff"/><circle cx="208.14" cy="492.5" r="2.3" fill="#0000ff"/><circle cx="211.95" cy="493.5" r="2.3" fill="#0000ff"/><circle cx="215.76" cy="490.2" r="2.3" fill="#0000ff"/><circle cx="219.57" cy="493.7" r="2.3" fill="#0000ff"/><circle cx="223.38" cy="476" r="2.3" fill="#0000ff"/><circle cx="227.19" cy="486.2" r="2.3" fill="#0000ff"/><circle cx="231" cy="476.8" r="2.3" fill="#0000ff"/><circle cx="234.81" cy="479.3" r="2.3" fill="#0000ff"/><circle cx="238.62" cy="485.3" r="2.3" fill="#0000ff"/><circle cx="242.43" cy="488" r="2.3" fill="#0000ff"/><circle cx="246.24" cy="486.2" r="2.3" fill="#0000ff"/><circle cx="250.05" cy="488.7" r="2.3" fill="#0000ff"/><circle cx="253.86" cy="484.3" r="2.3" fill="#0000ff"/><circle cx="257.67" cy="480.8" r="2.3" fill="#0000ff"/><circle cx="261.48" cy="505.7" r="2.3" fill="#0000ff"/><circle cx="265.29" cy="481.3" r="2.3" fill="#0000ff"/><circle cx="269.1" cy="488.2" r="2.3" fill="#0000ff"/><circle cx="272.91" cy="482.8" r="2.3" fill="#0000ff"/><circle cx="276.72" cy="462.1" r="2.3" fill="#0000ff"/><circle cx="280.53" cy="482" r="2.3" fill="#0000ff"/><circle cx="284.34" cy="451.2" r="2.3" fill="#0000ff"/><circle cx="288.15" cy="463.4" r="2.3" fill="#0000ff"/><circle cx="291.96" cy="482.3" r="2.3" fill="#0000ff"/><circle cx="295.77" cy="485.5" r="2.3" fill="#0000ff"/><circle cx="299.58" cy="479" r="2.3" fill="#0000ff"/><circle cx="303.39" cy="482.5" r="2.3" fill="#0000ff"/><circle cx="307.2" cy="488" r="2.3" fill="#0000ff"/><circle cx="311.01" cy="483.3" r="2.3" fill="#0000ff"/><circle cx="314.82" cy="484.8" r="2.3" fill="#0000ff"/><circle cx="318.63" cy="485.8" r="2.3" fill="#0000ff"/><circle cx="322.44" cy="482.3" r="2.3" fill="#0000ff"/><circle cx="326.25" cy="473.1" r="2.3" fill="#0000ff"/><circle cx="330.06" cy="485.5" r="2.3" fill="#0000ff"/><circle cx="333.87" cy="502.4" r="2.3" fill="#0000ff"/><g stroke="#000" stroke-width="1.4" fill="none"><rect x="40.7" y="439.3" width="371.3" height="73.9"/><line x1="337.6" y1="439.3" x2="337.6" y2="513.2"/><line x1="40.7" y1="439.6" x2="43.7" y2="439.6"/><line x1="334.6" y1="439.6" x2="337.6" y2="439.6"/><line x1="40.7" y1="488.6" x2="43.7" y2="488.6"/><line x1="334.6" y1="488.6" x2="337.6" y2="488.6"/></g><text x="36.1" y="442.3" font-size="8.3" text-anchor="end" fill="#222" color="#222">-0.2</text><text x="36.1" y="491.3" font-size="8.3" text-anchor="end" fill="#222" color="#222">-0.4</text><text x="43.8" y="452.4" font-size="10.4" fill="#222" color="#222">(f) 1236 cm<tspan font-size="6.0" dx="0.9" dy="-4.6">-1</tspan></text><g stroke="#2a2a2a" stroke-width="0.85" fill="none"><rect x="350.45" y="473.3" width="11.3" height="14"/><line x1="350.45" y1="480.2" x2="361.75" y2="480.2"/><line x1="356.1" y1="464.5" x2="356.1" y2="473.3"/><line x1="356.1" y1="487.3" x2="356.1" y2="494.2"/><line x1="353.65" y1="464.5" x2="358.55" y2="464.5"/><line x1="353.65" y1="494.2" x2="358.55" y2="494.2"/></g><circle cx="356.1" cy="457.5" r="1.75" fill="#000"/><circle cx="356.1" cy="495.7" r="1.75" fill="#000"/><g stroke="#2828ff" stroke-width="0.85" fill="none"><rect x="387.65" y="481.1" width="11.3" height="7.5"/><line x1="387.65" y1="484.9" x2="398.95" y2="484.9"/><line x1="393.3" y1="474.2" x2="393.3" y2="481.1"/><line x1="393.3" y1="488.6" x2="393.3" y2="493.3"/><line x1="390.85" y1="474.2" x2="395.75" y2="474.2"/><line x1="390.85" y1="493.3" x2="395.75" y2="493.3"/></g><circle cx="393.3" cy="462.7" r="1.75" fill="#0000ff"/><circle cx="393.3" cy="500.9" r="1.75" fill="#0000ff"/><text x="356.9" y="508.2" font-size="8.45" fill="#222" color="#222">p=0.038</text>
<text transform="translate(15.4,265.2) rotate(-90)" font-size="13.5" text-anchor="middle" fill="#111" color="#111">Intensity</text>
<text x="73.4" y="542.2" font-size="14" fill="#111" color="#111">Samples (</text>
<circle cx="137.7" cy="537.9" r="2.0" fill="#000"/>
<text x="161.6" y="542.2" font-size="13.8" fill="#111" color="#111">Healthy</text>
<circle cx="229.95" cy="537.3" r="1.95" fill="#0000ff"/>
<text x="253.9" y="542.2" font-size="13.8" fill="#1212d8" color="#1212d8">Cancer</text>
<text x="300.6" y="542.2" font-size="13.8" fill="#111" color="#111">)</text>
</svg></body></html>
